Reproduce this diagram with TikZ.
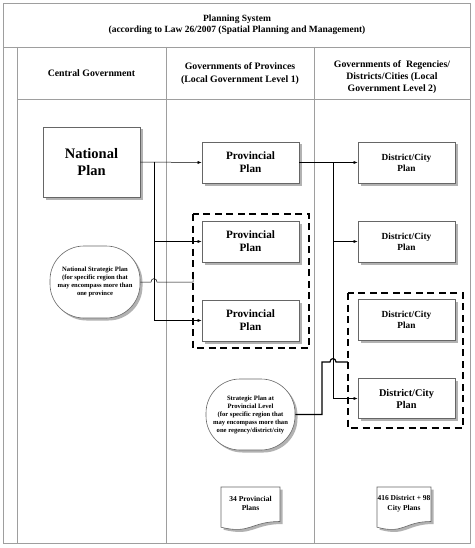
\documentclass[tikz,border=0pt]{standalone}
\usepackage{fontspec}
\setmainfont{Liberation Serif}
\usetikzlibrary{shadows,arrows.meta}
\begin{document}
\begin{tikzpicture}[x=1pt,y=-1pt,
  frame/.style={draw=black!38, line width=0.8pt},
  shade/.style={drop shadow={shadow xshift=2.5pt, shadow yshift=-2.5pt, fill=black!50, opacity=0.6}},
  plan/.style={draw=black!60, line width=0.6pt, fill=white, shade, align=center, font=\bfseries, inner sep=0pt},
  bubble/.style={plan, rounded corners=34pt, font=\bfseries\fontsize{6.6}{8}\selectfont},
  grp/.style={draw=black, line width=1.4pt, dash pattern=on 7pt off 4.5pt},
  arr/.style={draw=black, line width=0.5pt, -{Latex[length=4pt,width=3pt]}},
  conn/.style={draw=black, line width=0.5pt},
  thickconn/.style={draw=black, line width=1.2pt},
  head/.style={align=center, font=\bfseries\fontsize{9.8}{12.2}\selectfont},
  doctext/.style={align=center, font=\bfseries\fontsize{7.5}{9.5}\selectfont},
  doc/.style={draw=black!60, line width=0.6pt, fill=white},
  docshade/.style={fill=black!50, opacity=0.6, shift={(2.5pt,-2.5pt)}}
]
\useasboundingbox (0,0) rectangle (474,548);
\fill[white] (0,0) rectangle (474,548);
% table frame
\draw[frame] (3,3) rectangle (470,543);
\draw[frame] (3,47) -- (470,47);
\draw[frame] (17,47) -- (17,543);
\draw[frame] (17,99) -- (470,99);
\draw[frame] (166,47) -- (166,543);
\draw[frame] (314,47) -- (314,543);
% title and headers
\node[head, font=\bfseries\fontsize{9.5}{10.5}\selectfont] (title) at (237,25) {Planning System\\(according to Law 26/2007 (Spatial Planning and Management)};
\node[head] (h1) at (91.5,73) {Central Government};
\node[head] (h2) at (240,73.5) {Governments of Provinces\\(Local Government Level 1)};
\node[head] (h3) at (392,77) {Governments of\ \ Regencies/\\Districts/Cities (Local\\Government Level 2)};
% dashed groups
\draw[grp] (193,214) rectangle (309,348);
\node (dash1) at (251,281) [minimum width=116pt, minimum height=134pt, inner sep=0pt] {};
\draw[grp] (348,293) rectangle (463,428);
\node (dash2) at (405.5,360.5) [minimum width=115pt, minimum height=135pt, inner sep=0pt] {};
% plans
\node[plan, minimum width=97pt, minimum height=70pt, font=\bfseries\fontsize{14.5}{17}\selectfont] (np) at (91.5,162) {National\\Plan};
\node[plan, minimum width=97pt, minimum height=41pt, font=\bfseries\fontsize{11.2}{13}\selectfont] (pp1) at (250.5,162.5) {Provincial\\Plan};
\node[plan, minimum width=97pt, minimum height=41pt, font=\bfseries\fontsize{11.2}{13}\selectfont] (pp2) at (250.5,241.5) {Provincial\\Plan};
\node[plan, minimum width=97pt, minimum height=41pt, font=\bfseries\fontsize{11.2}{13}\selectfont] (pp3) at (250.5,320.5) {Provincial\\Plan};
\node[plan, minimum width=97pt, minimum height=41pt, font=\bfseries\fontsize{9.3}{10.8}\selectfont] (dc1) at (406.5,162.5) {District/City\\Plan};
\node[plan, minimum width=97pt, minimum height=41pt, font=\bfseries\fontsize{9.3}{10.8}\selectfont] (dc2) at (406.5,241.5) {District/City\\Plan};
\node[plan, minimum width=97pt, minimum height=41pt, font=\bfseries\fontsize{9.3}{10.8}\selectfont] (dc3) at (406.5,319.5) {District/City\\Plan};
\node[plan, minimum width=97pt, minimum height=40pt, font=\bfseries\fontsize{10.3}{12}\selectfont] (dc4) at (406.5,398.5) {District/City\\Plan};
% strategic plans
\node[bubble, minimum width=90pt, minimum height=72pt] (nsp) at (95,282) {National Strategic Plan\\(for specific region that\\may encompass more than\\one province};
\node[bubble, minimum width=89pt, minimum height=71pt] (spp) at (250.5,414.5) {Strategic Plan at\\Provincial Level\\(for specific region that\\may encompass more than\\one regency/district/city};
% documents
\fill[docshade] (221,487) -- (280,487) -- (280,521.5) .. controls (250.5,521.5) and (250.5,534.6) .. (221,527.2) -- cycle;
\draw[doc] (221,487) -- (280,487) -- (280,521.5) .. controls (250.5,521.5) and (250.5,534.6) .. (221,527.2) -- cycle;
\node[doctext] (doc1) at (250.5,503.5) {34 Provincial\\Plans};
\fill[docshade] (377,487) -- (431,487) -- (431,521.5) .. controls (404,521.5) and (404,534.6) .. (377,527.2) -- cycle;
\draw[doc] (377,487) -- (431,487) -- (431,521.5) .. controls (404,521.5) and (404,534.6) .. (377,527.2) -- cycle;
\node[doctext] (doc2) at (404,503.5) {416 District + 98\\City Plans};
% connectors from national plan
\coordinate (ta) at (154,162);
\draw[arr] (np.east) -- (pp1.west);
\draw[arr] (ta) |- (pp2.west);
\draw[arr] (ta) |- (pp3.west);
% connectors from provincial plan
\coordinate (tb) at (333,162.5);
\draw[arr] (pp1.east) -- (dc1.west);
\draw[arr] (tb) |- (dc2.west);
\draw[arr] (tb) |- (dc4.west);
% strategic plan links with hops
\coordinate (h1a) at (151,282);
\coordinate (h1b) at (157,282);
\coordinate (e1) at (193,282);
\coordinate (e1t) at (193,279);
\draw[conn] (nsp.east) -- (h1a) .. controls (151,277.5) and (157,277.5) .. (h1b) -- (e1) -- (e1t);
\coordinate (sj1) at (322,414.5);
\coordinate (sj2) at (322,362);
\coordinate (h2a) at (330,362);
\coordinate (h2b) at (336,362);
\draw[thickconn] (spp.east) -- (sj1) -- (sj2) -- (h2a) .. controls (330,357.5) and (336,357.5) .. (h2b) -- (dash2.west |- sj2);
\end{tikzpicture}
\end{document}
